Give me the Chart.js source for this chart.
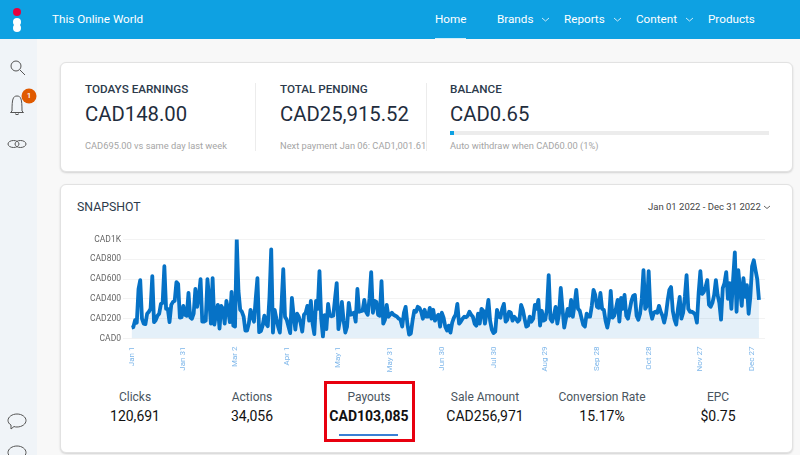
<!DOCTYPE html>
<html lang="en">
<head>
<meta charset="UTF-8">
<title>Snapshot</title>
<style>
    html, body { margin: 0; width: 800px; height: 455px; overflow: hidden; background: #f8f8f8; font-family: Roboto, sans-serif; color: #1f2d3d; }
    .t { position: absolute; white-space: nowrap; line-height: 1; }
    .c { transform: translateX(-50%); text-align: center; }
    .box { position: absolute; }
    #topbar { left: 0; top: 0; width: 800px; height: 39px; background: #0ea1e2; }
    #side { left: 0; top: 39px; width: 37px; height: 416px; background: #f0f4f8; }
    .card { background: #fff; border: 1px solid #e2e2e2; border-radius: 6px; box-shadow: 0 1px 2px rgba(0,0,0,.15); box-sizing: border-box; }
    .nav { color: #fff; font-size: 11.7px; top: 14px; }
    .head { font-size: 11.7px; font-weight: 500; top: 84px; color: #2c3a4b; }
    .big { font-size: 20.3px; top: 104px; color: #1f2d3d; }
    .small { font-size: 9.3px; top: 141px; color: #a5a5a5; }
    .lab { font-size: 12px; top: 391px; color: #4a5560; }
    .val { font-size: 14px; top: 409px; color: #111; }
    svg { position: absolute; overflow: visible; }
    #wrap { position: absolute; left: 70px; top: 230px; width: 700px; height: 145px; }
</style>
</head>
<body>
<div class="box" id="topbar"></div>
<div class="box" id="side"></div>

<svg style="left:0;top:0" width="37" height="39">
    <circle cx="17" cy="12" r="4" fill="#e8003d"/>
    <circle cx="17" cy="22" r="4" fill="#fff"/>
    <circle cx="17" cy="28" r="4" fill="#fff"/>
</svg>
<div class="t" style="left:52px;top:14px;font-size:11.7px;color:#fff">This Online World</div>
<div class="t nav" style="left:435px">Home</div>
<div class="box" style="left:435px;top:38px;width:31px;height:1px;background:#cfeefa"></div>
<div class="t nav" style="left:497px">Brands</div>
<div class="t nav" style="left:564px">Reports</div>
<div class="t nav" style="left:636px">Content</div>
<div class="t nav" style="left:708px">Products</div>
<svg style="left:0;top:0" width="800" height="39" fill="none" stroke="#cdeaf8" stroke-width="1">
    <path d="M542 18l3.5 3 3.5-3M614 18l3.5 3 3.5-3M686 18l3.5 3 3.5-3"/>
</svg>

<!-- sidebar icons -->
<svg style="left:0;top:55px" width="37" height="110" fill="none" stroke="#555" stroke-width="1">
    <circle cx="16" cy="11" r="5"/><path d="M20 15l5 5"/>
    <path d="M12 56c0-12 1-15 5-15s5 3 5 15l1.500 1.500h-13zM15 58.500c1 1.500 3 1.500 4 0"/>
    <ellipse cx="13.500" cy="89" rx="5.500" ry="3.500"/><ellipse cx="20.500" cy="89" rx="5.500" ry="3.500"/>
</svg>
<svg style="left:0;top:85px" width="40" height="24">
    <circle cx="29" cy="11" r="7.500" fill="#e05a00"/>
</svg>
<div class="t c" style="left:29px;top:92px;font-size:8px;color:#fff;font-weight:500">1</div>
<svg style="left:0;top:405px" width="37" height="50" fill="none" stroke="#555" stroke-width="1">
    <path d="M17 9c5 0 9 3 9 6.500s-4 6.500-9 6.500c-1 0-2 0-3-.5l-3 2.500v-4c-2-1-3-3-3-4.500 0-3.500 4-6.500 9-6.500z"/>
    <path d="M17 41c5 0 9 3 9 6.500s-4 6.500-9 6.500-9-3-9-6.500 4-6.500 9-6.500z"/>
</svg>

<!-- earnings card -->
<div class="box card" style="left:60px;top:62px;width:733px;height:110px"></div>
<div class="t head" style="left:85px">TODAYS EARNINGS</div>
<div class="t big" style="left:85px">CAD148.00</div>
<div class="t small" style="left:85px">CAD695.00 vs same day last week</div>
<div class="box" style="left:255px;top:83px;width:1px;height:68px;background:#ececec"></div>
<div class="t head" style="left:280px">TOTAL PENDING</div>
<div class="t big" style="left:280px">CAD25,915.52</div>
<div class="t small" style="left:280px">Next payment Jan 06: CAD1,001.61</div>
<div class="box" style="left:426px;top:83px;width:1px;height:68px;background:#ececec"></div>
<div class="t head" style="left:450px">BALANCE</div>
<div class="t big" style="left:450px">CAD0.65</div>
<div class="box" style="left:450px;top:131px;width:319px;height:4px;background:#ececec"></div>
<div class="box" style="left:450px;top:131px;width:4px;height:4px;background:#0ea1e2"></div>
<div class="t small" style="left:450px">Auto withdraw when CAD60.00 (1%)</div>

<!-- snapshot card -->
<div class="box card" style="left:60px;top:184px;width:733px;height:269px"></div>
<div class="t" style="left:77px;top:201px;font-size:12.3px;color:#2c3a4b">SNAPSHOT</div>
<div class="t" style="left:648px;top:202px;font-size:9.5px;color:#444">Jan 01 2022 - Dec 31 2022</div>
<svg style="left:0;top:0" width="800" height="455" fill="none" stroke="#666" stroke-width="1">
    <path d="M764 206l3 2.500 3-2.500"/>
</svg>

<div id="wrap"><canvas id="snapshot"></canvas></div>

<div class="t c lab" style="left:135px">Clicks</div>
<div class="t c val" style="left:135px">120,691</div>
<div class="t c lab" style="left:252px">Actions</div>
<div class="t c val" style="left:252px">34,056</div>
<div class="t c lab" style="left:369px">Payouts</div>
<div class="t c val" style="left:369px;font-weight:700">CAD103,085</div>
<div class="box" style="left:339px;top:434px;width:59px;height:2px;background:#3a7fd5"></div>
<div class="t c lab" style="left:485px">Sale Amount</div>
<div class="t c val" style="left:485px">CAD256,971</div>
<div class="t c lab" style="left:602px">Conversion Rate</div>
<div class="t c val" style="left:602px">15.17%</div>
<div class="t c lab" style="left:718px">EPC</div>
<div class="t c val" style="left:718px">$0.75</div>
<div class="box" style="left:324px;top:381px;width:91px;height:61px;border:3px solid #e8000f;box-sizing:border-box"></div>

<script src="https://cdn.jsdelivr.net/npm/chart.js"></script>
<script>
    // Daily payouts, one 30 day stretch at a time
    const payoutsJan = [110,115,185,160,500,590,200,150,145,250,270,300,630,165,185,230,250,350,360,730,300,300,165,340,370,380,570,550,210,215];
    const payoutsFeb = [330,240,230,460,215,200,250,500,320,420,600,170,170,180,600,400,150,610,140,250,340,100,330,300,150,380,290,165,470,130];
    const payoutsMar = [120,1000,480,290,270,220,80,80,150,290,220,170,400,610,65,75,130,230,150,125,420,900,60,290,200,120,60,350,700,220];
    const payoutsApr = [190,120,55,410,230,90,250,220,160,70,240,260,330,180,380,150,45,380,300,680,200,20,235,95,350,230,225,230,400,560];
    const payoutsMay = [95,200,370,180,60,120,360,240,250,260,170,500,270,275,280,390,270,240,400,670,260,380,370,240,230,580,150,190,340,220];
    const payoutsJun = [240,260,240,230,220,200,190,120,260,320,150,40,50,180,280,270,320,310,270,200,290,220,220,310,200,290,180,220,240,120];
    const payoutsJul = [260,210,120,80,130,60,160,210,240,350,150,170,200,220,215,230,270,240,220,150,130,250,150,300,280,150,260,390,180,90];
    const payoutsAug = [55,70,290,220,210,300,350,170,190,270,260,180,220,200,170,190,340,290,200,120,130,220,170,200,340,300,390,130,280,180];
    const payoutsSep = [190,300,640,200,170,230,320,150,250,510,300,110,200,300,230,390,220,340,490,300,280,210,140,120,250,220,220,330,490,440];
    const payoutsOct = [320,310,460,300,290,180,110,200,480,210,230,300,390,170,410,300,440,230,200,290,380,430,440,230,190,250,400,690,300,330];
    const payoutsNov = [680,280,200,260,270,260,330,270,230,160,240,380,490,520,280,190,140,300,420,200,260,420,640,300,270,270,260,240,160,460];
    const payoutsDec = [680,450,470,520,590,340,320,360,440,590,440,360,190,510,560,670,400,560,300,600,870,270,690,500,330,610,420,540,250,420];
    const payoutsEnd = [730,790,690,600,390];
    const payouts = [].concat(payoutsJan, payoutsFeb, payoutsMar, payoutsApr, payoutsMay, payoutsJun, payoutsJul, payoutsAug, payoutsSep, payoutsOct, payoutsNov, payoutsDec, payoutsEnd);

    const tickDays = [0,30,60,90,120,150,180,210,240,270,300,330,360];
    const tickDates = ['Jan 1','Jan 31','Mar 2','Apr 1','May 1','May 31','Jun 30','Jul 30','Aug 29','Sep 28','Oct 28','Nov 27','Dec 27'];

    new Chart(document.getElementById('snapshot'), {
        type: 'line',
        data: {
            datasets: [{
                data: payouts.map((v, i) => ({ x: i, y: v })),
                borderColor: '#0672c6',
                borderWidth: 3.8,
                backgroundColor: 'rgba(6,114,198,0.11)',
                fill: 'origin',
                pointRadius: 0,
                tension: 0,
                borderJoinStyle: 'round'
            }]
        },
        options: {
            animation: false,
            responsive: true,
            maintainAspectRatio: false,
            layout: { padding: { top: 9.5, right: 5, left: 0, bottom: 0 } },
            plugins: { legend: { display: false }, tooltip: { enabled: false } },
            scales: {
                x: {
                    type: 'linear',
                    min: -5,
                    max: 367.5,
                    afterBuildTicks: axis => { axis.ticks = tickDays.map(d => ({ value: d })); },
                    afterFit: axis => { axis.height = 36.5; },
                    grid: { display: false },
                    border: { display: false },
                    ticks: {
                        autoSkip: false,
                        minRotation: 90,
                        maxRotation: 90,
                        padding: 0,
                        color: '#7db6ea',
                        font: { family: 'Roboto', size: 8 },
                        callback: v => tickDates[tickDays.indexOf(v)]
                    }
                },
                y: {
                    min: 0,
                    max: 1000,
                    afterFit: axis => { axis.width = 53; },
                    grid: { color: '#f3f3f3', drawTicks: false },
                    border: { display: false },
                    ticks: {
                        stepSize: 200,
                        padding: 2,
                        color: '#666',
                        font: { family: 'Roboto', size: 8.5 },
                        callback: v => v === 1000 ? 'CAD1K' : 'CAD' + v
                    }
                }
            }
        }
    });
</script>
</body>
</html>
